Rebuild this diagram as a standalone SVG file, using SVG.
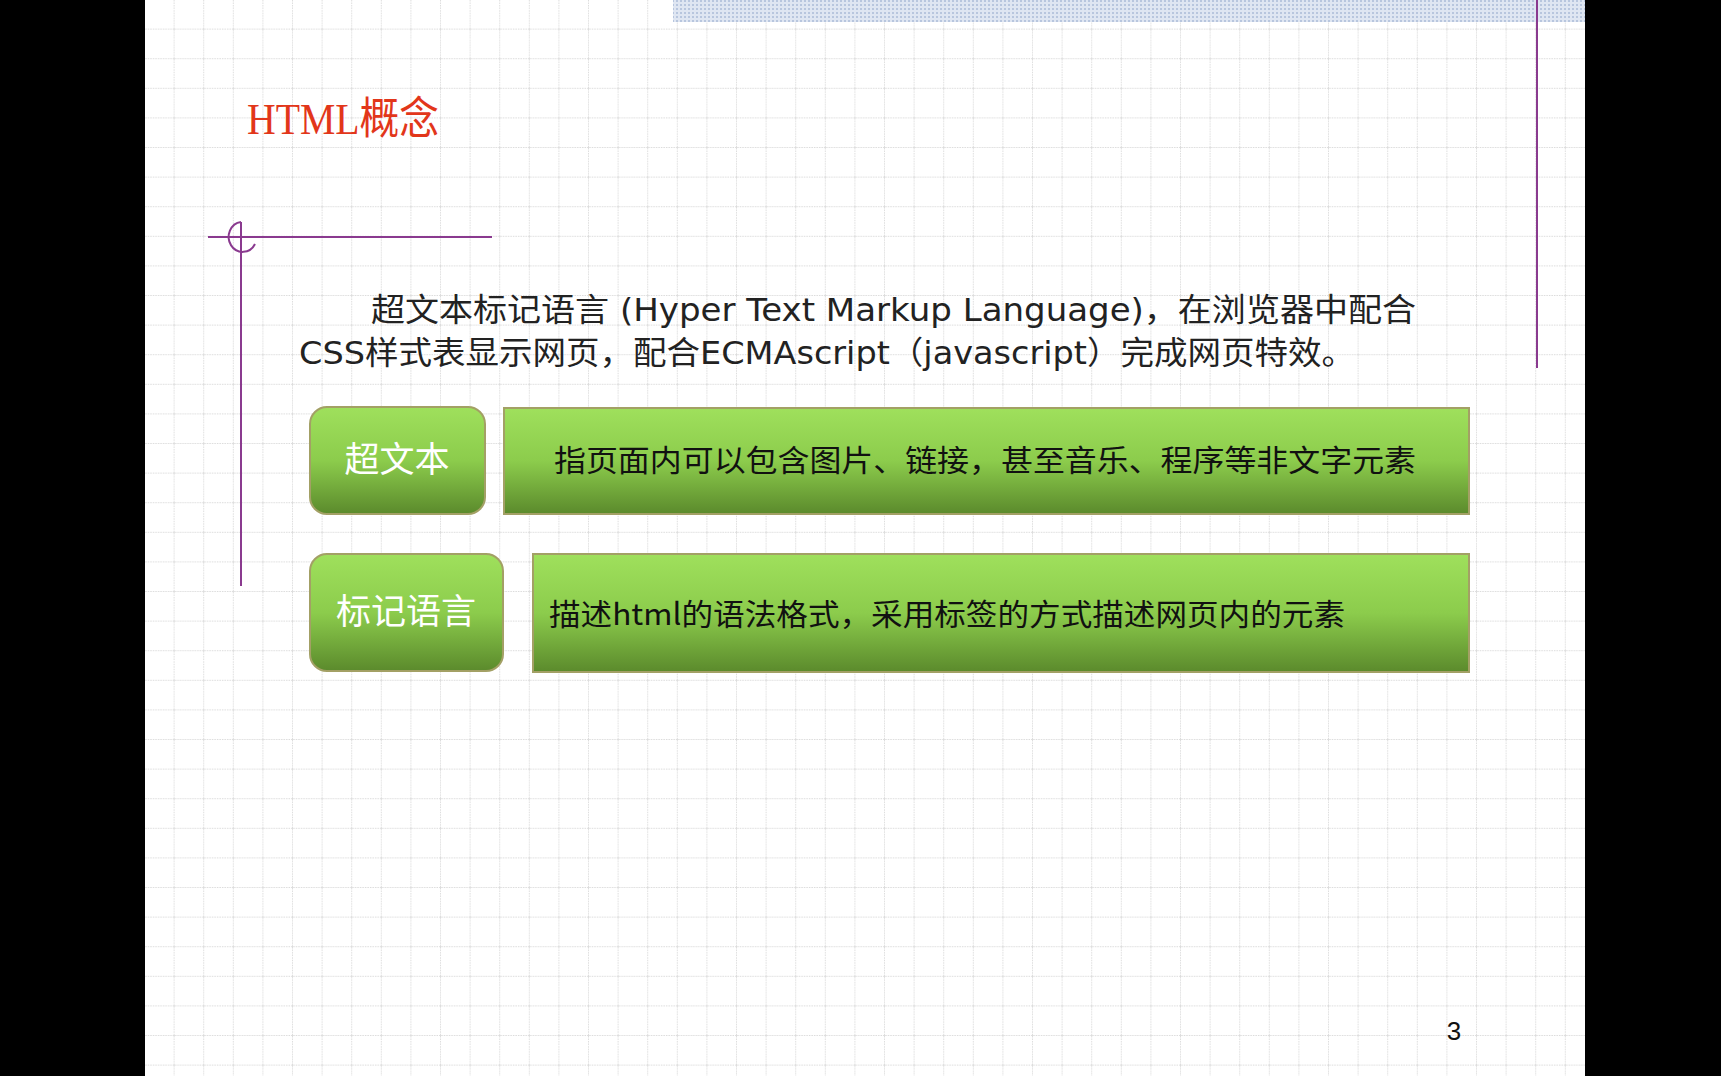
<svg xmlns="http://www.w3.org/2000/svg" width="1721" height="1076" viewBox="0 0 1721 1076">
<style>
.cn{font-family:"Noto Sans CJK SC","DejaVu Sans",sans-serif}
.box{stroke:#a3a065;stroke-width:2}
.para{font-family:"DejaVu Sans","Noto Sans CJK SC",sans-serif;font-size:32px;fill:#222}
.pl{stroke:#8a3a8f;stroke-width:2;fill:none}
</style>
<defs>
<pattern id="grid" x="145" y="0" width="29.6" height="29.6" patternUnits="userSpaceOnUse">
<path d="M29.6 0V29.6H0" fill="none" stroke="#d0d0d0" stroke-width="1.4" stroke-dasharray="1.5 1"/>
</pattern>
<pattern id="dots" width="4" height="4" patternUnits="userSpaceOnUse">
<rect width="4" height="4" fill="#dfe6f2"/><rect width="2" height="2" fill="#b8c6de"/>
</pattern>
<linearGradient id="g" x1="0" y1="0" x2="0" y2="1">
<stop offset="0" stop-color="#9fe05c"/><stop offset="0.5" stop-color="#8ccc4c"/><stop offset="1" stop-color="#5b8a2c"/>
</linearGradient>
</defs>
<rect width="1721" height="1076" fill="#000"/>
<rect x="145" y="0" width="1440" height="1076" fill="#fff"/>
<rect x="145" y="0" width="1440" height="1076" fill="url(#grid)"/>
<rect x="673" y="0" width="912" height="22" fill="url(#dots)"/>
<g id="decor">
<line class="pl" x1="1537" y1="0" x2="1537" y2="368"/>
<line class="pl" x1="208" y1="237" x2="492" y2="237"/>
<line class="pl" x1="241" y1="222" x2="241" y2="586"/>
<path class="pl" d="M241 222 A14 15 0 1 0 255 244"/>
</g>
<text id="title" x="247" y="134" font-family="'Liberation Serif','Noto Sans CJK SC',serif" font-size="44" fill="#e2361a" textLength="192" lengthAdjust="spacingAndGlyphs">HTML概念</text>
<g id="intro">
<text class="para" x="371" y="321" textLength="1045" lengthAdjust="spacingAndGlyphs">超文本标记语言 (Hyper Text Markup Language)，在浏览器中配合</text>
<text class="para" x="299" y="364" textLength="1056" lengthAdjust="spacingAndGlyphs">CSS样式表显示网页，配合ECMAscript（javascript）完成网页特效。</text>
</g>
<g id="n1">
<rect class="box" x="310" y="407" width="175" height="107" rx="17" fill="url(#g)"/>
<text class="cn" x="397" y="472" font-size="35" fill="#fff" text-anchor="middle">超文本</text>
</g>
<g id="n1d">
<rect class="box" x="504" y="408" width="965" height="106" fill="url(#g)"/>
<text class="cn" x="554" y="471" font-size="30" fill="#111" textLength="862" lengthAdjust="spacingAndGlyphs">指页面内可以包含图片、链接，甚至音乐、程序等非文字元素</text>
</g>
<g id="n2">
<rect class="box" x="310" y="554" width="193" height="117" rx="17" fill="url(#g)"/>
<text class="cn" x="406" y="624" font-size="35" fill="#fff" text-anchor="middle">标记语言</text>
</g>
<g id="n2d">
<rect class="box" x="533" y="554" width="936" height="118" fill="url(#g)"/>
<text class="cn" x="549" y="625" font-size="30" fill="#111" textLength="796" lengthAdjust="spacingAndGlyphs">描述html的语法格式，采用标签的方式描述网页内的元素</text>
</g>
<g id="connectors"></g>
<text x="1454" y="1040" font-family="'Liberation Sans',sans-serif" font-size="26" fill="#111" text-anchor="middle">3</text>
</svg>
